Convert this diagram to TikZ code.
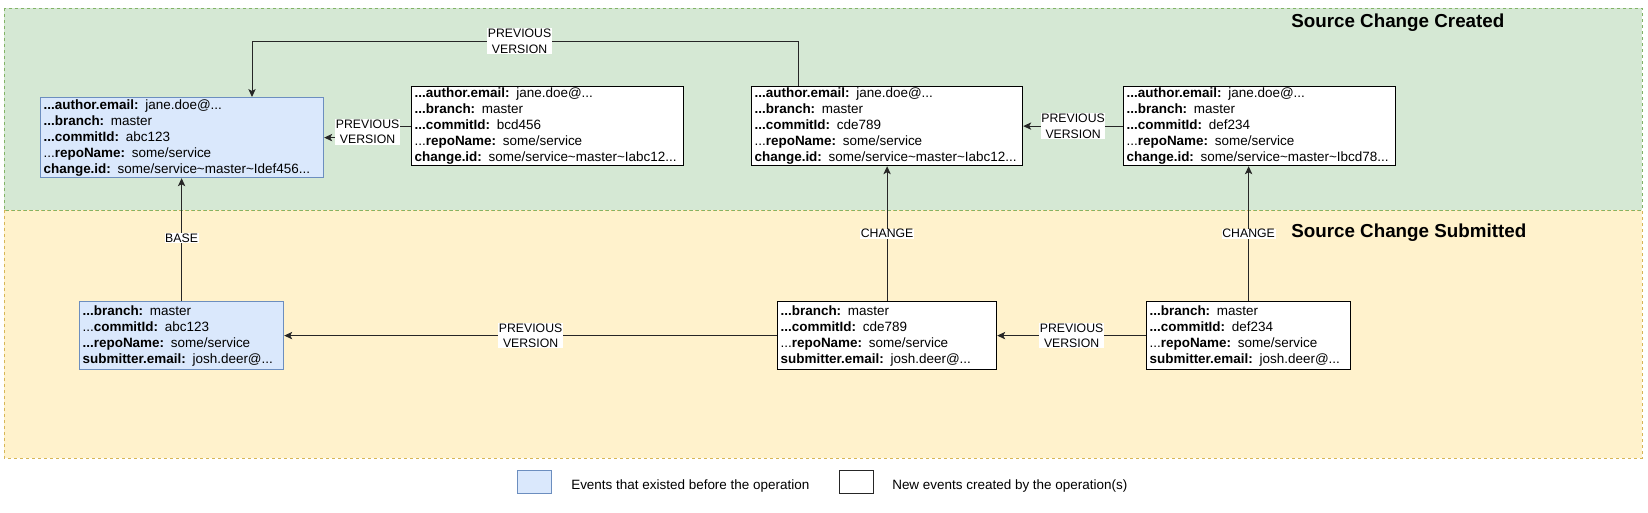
\documentclass[tikz,border=0pt]{standalone}
\usepackage{fontspec}
\setmainfont{Liberation Sans}
\usetikzlibrary{arrows.meta,calc}
\definecolor{grfill}{HTML}{D5E8D4}
\definecolor{grline}{HTML}{82B366}
\definecolor{yefill}{HTML}{FFF2CC}
\definecolor{yeline}{HTML}{D6B656}
\definecolor{blfill}{HTML}{DAE8FC}
\definecolor{blline}{HTML}{6C8EBF}
\newcommand\rowb[2]{\mbox{\textbf{#1} #2}}
\newcommand\rowr[2]{\mbox{...\textbf{#1} #2}}
\newcommand\tld{\textasciitilde}
\begin{document}
\begin{tikzpicture}[x=0.75pt,y=-0.75pt,
  region/.style={dash pattern=on 2.25pt off 2.25pt, line width=0.75pt},
  evt/.style={draw=black, fill=white, line width=0.9pt, rectangle, inner xsep=2.25pt, inner ysep=0pt,
    align=left, font=\fontsize{10.1}{12}\selectfont, anchor=north west},
  old/.style={evt, draw=blline, fill=blfill},
  lbl/.style={fill=white, inner xsep=0.5pt, inner ysep=0.5pt, align=center, font=\fontsize{9.2}{11.7}\selectfont},
  arr/.style={draw=black!85, line width=0.75pt, -{Stealth[length=6pt,width=5.5pt,inset=1.5pt]}},
  title/.style={font=\fontsize{14.1}{16}\selectfont\bfseries, anchor=west, inner sep=0pt},
  legtxt/.style={font=\fontsize{10.1}{12}\selectfont, anchor=west, inner sep=0pt},
  legbox/.style={minimum width=25.5pt, minimum height=17.25pt, anchor=north west, inner sep=0pt, line width=0.75pt}
]
\useasboundingbox (0,0) rectangle (1648,512);
\fill[white] (0,0) rectangle (1648,512);
% regions
\draw[region, draw=yeline, fill=yefill] (4,210) rectangle (1642,458);
\draw[region, draw=grline, fill=grfill] (4,8) rectangle (1642,210);
\node[title] (t1) at (1291,23) {Source Change Created};
\node[title] (t2) at (1291,233) {Source Change Submitted};

% top row
\node[old, text width=207.75pt, minimum height=60pt] (A) at (40,97) {%
\rowb{...author.email:}{jane.doe@...}\\
\rowb{...branch:}{master}\\
\rowb{...commitId:}{abc123}\\
\rowr{repoName:}{some/service}\\
\rowb{change.id:}{some/service\tld master\tld Idef456...}};
\node[evt, text width=199.5pt, minimum height=59.25pt] (B) at (411,86) {%
\rowb{...author.email:}{jane.doe@...}\\
\rowb{...branch:}{master}\\
\rowb{...commitId:}{bcd456}\\
\rowr{repoName:}{some/service}\\
\rowb{change.id:}{some/service\tld master\tld Iabc12...}};
\node[evt, text width=198.75pt, minimum height=59.25pt] (C) at (751,86) {%
\rowb{...author.email:}{jane.doe@...}\\
\rowb{...branch:}{master}\\
\rowb{...commitId:}{cde789}\\
\rowr{repoName:}{some/service}\\
\rowb{change.id:}{some/service\tld master\tld Iabc12...}};
\node[evt, text width=199.5pt, minimum height=59.25pt] (D) at (1123,86) {%
\rowb{...author.email:}{jane.doe@...}\\
\rowb{...branch:}{master}\\
\rowb{...commitId:}{def234}\\
\rowr{repoName:}{some/service}\\
\rowb{change.id:}{some/service\tld master\tld Ibcd78...}};

% bottom row
\node[old, text width=148.5pt, minimum height=51pt] (E) at (79,301) {%
\rowb{...branch:}{master}\\
\rowr{commitId:}{abc123}\\
\rowb{...repoName:}{some/service}\\
\rowb{submitter.email:}{josh.deer@...}};
\node[evt, text width=159.75pt, minimum height=51pt] (F) at (777,301) {%
\rowb{...branch:}{master}\\
\rowb{...commitId:}{cde789}\\
\rowr{repoName:}{some/service}\\
\rowb{submitter.email:}{josh.deer@...}};
\node[evt, text width=148.5pt, minimum height=51pt] (G) at (1146,301) {%
\rowb{...branch:}{master}\\
\rowb{...commitId:}{def234}\\
\rowr{repoName:}{some/service}\\
\rowb{submitter.email:}{josh.deer@...}};

% connectors
\coordinate (ca) at (798,41);
\coordinate (ac) at (252,41);
\draw[arr] (C.north -| ca) -- (ca) -- node[lbl, pos=0.51] {PREVIOUS\\VERSION} (ac) -- (A.north -| ac);
\draw[arr] (B.west) -- ++(-44,0) |- (A.east);
\node[lbl] (lba) at ($(B.west)!0.5!(A.east)$) {PREVIOUS\\VERSION};
\draw[arr] (D.west) -- node[lbl] {PREVIOUS\\VERSION} (C.east);
\draw[arr] (F.north) -- node[lbl] {CHANGE} (C.south);
\draw[arr] (G.north) -- node[lbl] {CHANGE} (G.north |- D.south);
\draw[arr] (E.north) -- node[lbl, pos=0.51] {BASE} (E.north |- A.south);
\draw[arr] (F.west) -- node[lbl] {PREVIOUS\\VERSION} (E.east);
\draw[arr] (G.west) -- node[lbl] {PREVIOUS\\VERSION} (F.east);

% legend
\node[legbox, draw=blline, fill=blfill] (lg1) at (517,470) {};
\node[legtxt] (lt1) at (571,486) {Events that existed before the operation};
\node[legbox, draw=black!85, fill=white] (lg2) at (839,470) {};
\node[legtxt] (lt2) at (892,486) {New events created by the operation(s)};
\end{tikzpicture}
\end{document}
